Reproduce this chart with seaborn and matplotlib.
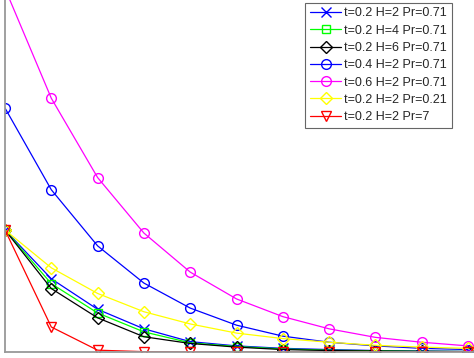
import numpy as np
import pandas as pd
import seaborn as sns
import matplotlib
matplotlib.use("Agg")
import matplotlib.pyplot as plt

# eje x (posiciones de los puntos)
eta = [0, 1, 2, 3, 4, 5, 6, 7, 8, 9, 10]

# curvas
t02_H2_Pr071 = [1.0, 0.60, 0.35, 0.19, 0.085, 0.05, 0.03, 0.02, 0.012, 0.008, 0.005]
t02_H4_Pr071 = [1.0, 0.56, 0.32, 0.165, 0.075, 0.045, 0.025, 0.015, 0.01, 0.006, 0.004]
t02_H6_Pr071 = [1.0, 0.52, 0.28, 0.125, 0.07, 0.04, 0.02, 0.012, 0.008, 0.005, 0.003]
t04_H2_Pr071 = [2.0, 1.33, 0.87, 0.565, 0.36, 0.22, 0.13, 0.08, 0.05, 0.03, 0.02]
t06_H2_Pr071 = [2.98, 2.08, 1.43, 0.975, 0.655, 0.435, 0.29, 0.19, 0.12, 0.08, 0.05]
t02_H2_Pr021 = [1.0, 0.69, 0.48, 0.33, 0.23, 0.155, 0.11, 0.08, 0.055, 0.04, 0.03]
t02_H2_Pr7 = [1.0, 0.205, 0.015, 0.003, 0.0, 0.0, 0.0, 0.0, 0.0, 0.0, 0.0]

etiquetas = ["t=0.2 H=2 Pr=0.71", "t=0.2 H=4 Pr=0.71", "t=0.2 H=6 Pr=0.71",
             "t=0.4 H=2 Pr=0.71", "t=0.6 H=2 Pr=0.71", "t=0.2 H=2 Pr=0.21",
             "t=0.2 H=2 Pr=7"]
series = [t02_H2_Pr071, t02_H4_Pr071, t02_H6_Pr071, t04_H2_Pr071,
          t06_H2_Pr071, t02_H2_Pr021, t02_H2_Pr7]
colores = ["#0000ff", "#00ff00", "#000000", "#0000ff", "#ff00ff", "#ffff00", "#ff0000"]
marcadores = ["x", "s", "D", "o", "o", "D", "v"]
tamanos = [7, 6, 6, 7, 7, 6, 7]

sns.set_style("white")
plt.rcParams["font.family"] = ["Liberation Sans", "DejaVu Sans"]

fig = plt.figure(figsize=(4.74, 3.58), dpi=100)
# el grafico original esta recortado: los ejes salen por arriba y por la derecha
ax = fig.add_axes([5 / 474, 6 / 358, 11 * 46.3 / 474, 366 / 358])

for y, lab, c, m, ms in zip(series, etiquetas, colores, marcadores, tamanos):
    df = pd.DataFrame({"eta": eta, "valor": y})
    sns.lineplot(data=df, x="eta", y="valor", ax=ax, color=c, marker=m,
                 markersize=ms, markerfacecolor="none", markeredgecolor=c,
                 markeredgewidth=1.0, linewidth=0.9, label=lab)

ax.set_xlim(0, 11)
ax.set_ylim(0, 3)
ax.set_xticks(np.arange(0, 11, 1))
ax.set_yticks(np.arange(0, 3.01, 0.5))
ax.set_xticklabels([])
ax.set_yticklabels([])
ax.set_xlabel("")
ax.set_ylabel("")
for lado in ["top", "right"]:
    ax.spines[lado].set_visible(False)
for lado in ["left", "bottom"]:
    ax.spines[lado].set_color("0.6")
    ax.spines[lado].set_linewidth(1.3)
ax.tick_params(direction="in", length=5, width=1, color="0.5")

leg = ax.legend(loc="lower left", bbox_to_anchor=(305 / 474, (358 - 128) / 358),
                bbox_transform=fig.transFigure, borderaxespad=0, fontsize=9,
                handlelength=2.5, handletextpad=0.25, labelspacing=0.42,
                borderpad=0.4, fancybox=False, framealpha=1)
leg.get_frame().set_edgecolor("0.4")
leg.get_frame().set_linewidth(0.8)

fig.savefig("out.png", dpi=100)
